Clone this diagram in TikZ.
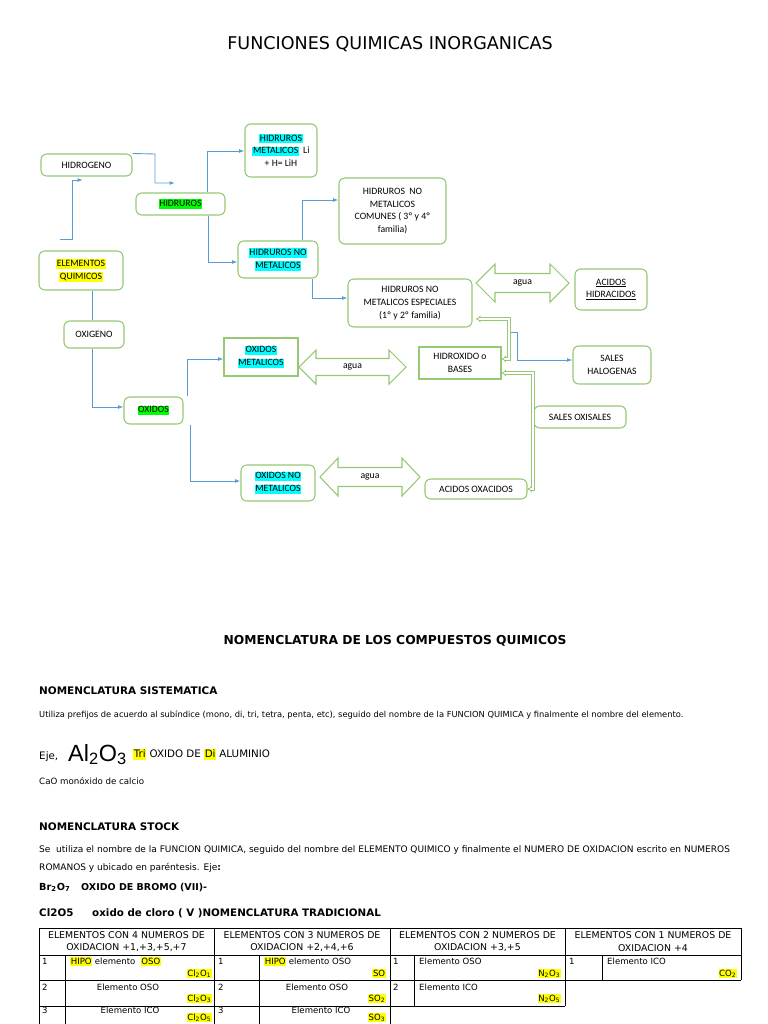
\documentclass[tikz,border=0pt]{standalone}
\usepackage{fontspec}
\setmainfont{Carlito}
\newfontfamily\comic{DejaVu Sans}
\newfontfamily\arialf{Liberation Sans}
\usetikzlibrary{arrows.meta}
\definecolor{gbord}{RGB}{150,200,115}
\definecolor{cblue}{RGB}{91,155,213}
\definecolor{hlg}{RGB}{0,255,0}
\definecolor{hlc}{RGB}{0,255,255}
\definecolor{hly}{RGB}{255,255,0}
\newcommand\hlt[2]{{\setlength{\fboxsep}{0.5pt}\colorbox{#1}{\vphantom{Ag}#2}}}
\newcommand\boxfont{\fontsize{8.3}{11}\selectfont}
\newcommand\parafont[1]{\comic\fontsize{#1}{9}\selectfont}
\newcommand\headfont{\comic\fontsize{8}{10.4}\selectfont}
\newcommand\cellfont{\comic\fontsize{7.3}{9}\selectfont}
\newcommand\aguaarrow[7]{%
  \draw[blockarr] (#2,#4) -- ({#2+#7},{#4-#5}) -- ({#2+#7},{#4-#6}) -- ({#3-#7},{#4-#6}) -- ({#3-#7},{#4-#5}) -- (#3,#4) -- ({#3-#7},{#4+#5}) -- ({#3-#7},{#4+#6}) -- ({#2+#7},{#4+#6}) -- ({#2+#7},{#4+#5}) -- cycle;
  \node[agua] (#1) at ({(#2+#3)/2},#4) {agua};}
\begin{document}
\begin{tikzpicture}[x=0.03cm,y=-0.03cm,
  box/.style={draw=gbord,line width=0.9pt,rounded corners=5pt,fill=white,inner sep=0pt,align=center,font=\boxfont},
  sbox/.style={box,rounded corners=0pt},
  sz/.style 2 args={minimum width=#1*0.03cm,minimum height=#2*0.03cm},
  conn/.style={draw=cblue,line width=0.75pt,-{Latex[length=4.5pt,width=3.2pt]}},
  dbl/.style={draw=gbord,double=white,double distance=1.4pt,line width=0.6pt,{Implies}-{Implies}},
  blockarr/.style={draw=gbord,line width=0.9pt,fill=white,line join=miter},
  agua/.style={font=\boxfont,inner sep=0pt},
  txt/.style={inner sep=0pt,anchor=base west},
  tline/.style={line width=0.8pt,draw=black}]
\useasboundingbox[fill=white] (0,0) rectangle (768,1024);

% title
\node[inner sep=0pt] (title) at (390,44) {\comic\fontsize{15}{17}\selectfont FUNCIONES QUIMICAS INORGANICAS};

% boxes
\node[box,sz={91}{22}] (hidrogeno) at (86.5,165) {HIDROGENO};
\node[box,sz={89}{22}] (hidruros) at (180.5,204) {\hlt{hlg}{HIDRUROS}};
\node[box,sz={72}{53}] (hmet) at (281,150.5) {\hlt{hlc}{HIDRUROS}\\\hlt{hlc}{METALICOS}\ \ Li\\+ H= LiH};
\node[box,sz={84}{39}] (elem) at (81,270.5) {\hlt{hly}{ELEMENTOS}\\\hlt{hly}{QUIMICOS}};
\node[box,sz={80}{37}] (hnomet) at (278,259.5) {\hlt{hlc}{HIDRUROS NO}\\\hlt{hlc}{METALICOS}};
\node[box,sz={107}{66}] (comunes) at (392.5,211) {HIDRUROS\ \ NO\\METALICOS\\COMUNES ( 3\textordmasculine{} y 4\textordmasculine\\familia)};
\node[box,sz={124}{48}] (espec) at (410,303) {HIDRUROS NO\\METALICOS ESPECIALES\\(1\textordmasculine{} y 2\textordmasculine{} familia)};
\node[box,sz={72}{41}] (acidh) at (611,289.5) {\underline{ACIDOS}\\\underline{HIDRACIDOS}};
\node[box,sz={60}{27}] (oxig) at (94,334.5) {OXIGENO};
\node[sbox,sz={74}{38}] (oxmet) at (261,357) {\hlt{hlc}{OXIDOS}\\\hlt{hlc}{METALICOS}};
\node[sbox,sz={82}{32}] (hidrox) at (460,363) {HIDROXIDO o\\BASES};
\node[box,sz={78}{38}] (salesh) at (612,365) {SALES\\HALOGENAS};
\node[box,sz={59}{27}] (oxidos) at (153.5,410.5) {\hlt{hlg}{OXIDOS}};
\node[box,sz={92}{22}] (salesox) at (580,417) {SALES OXISALES};
\node[box,sz={74}{36}] (oxnomet) at (278,483) {\hlt{hlc}{OXIDOS NO}\\\hlt{hlc}{METALICOS}};
\node[box,sz={102}{20}] (acox) at (476,489) {ACIDOS OXACIDOS};

% block arrows
\aguaarrow{agua1}{476}{569}{283}{19}{9.5}{19}
\aguaarrow{agua2}{299}{406}{367}{17}{8.5}{17}
\aguaarrow{agua3}{320}{420}{477}{19}{9.5}{18}

% blue connectors
\coordinate (e1) at (60,239);
\coordinate (e2) at (83,180);
\draw[conn] (e1) -- (72,239) |- (e2);
\coordinate (h1) at (175,183);
\draw[conn] (hidrogeno.north east) -- (155,154) |- (h1);
\draw[conn] (hidruros.north -| 207,0) |- (hmet.west |- 0,151);
\draw[conn] (hidruros.south -| 208,0) |- (hnomet.west |- 0,262);
\draw[conn] (hnomet.north -| 302,0) |- (comunes.west |- 0,200);
\draw[conn] (hnomet.south -| 312,0) |- (espec.west |- 0,298);
\draw[conn,-] (elem.south -| 92,0) -- (oxig.north -| 92,0);
\draw[conn] (oxig.south -| 92,0) |- (oxidos.west |- 0,407);
\draw[conn] (oxidos.north -| 187,0) |- (oxmet.west |- 0,359);
\draw[conn] (oxidos.south -| 190,0) |- (oxnomet.west |- 0,481);
\coordinate (s1) at (511,332);
\draw[conn] (s1) -- (517,332) |- (salesh.west |- 0,360);

% green double connectors
\draw[dbl] ([xshift=3pt]espec.east |- 0,319) -- (509,319) -- (509,359) -- (hidrox.east |- 0,359);
\draw[dbl] (acox.east |- 0,489) -- (533,489) -- (533,373) -- (hidrox.east |- 0,373);

% lower text
\node[inner sep=0pt] (t2) at (395,641) {\comic\bfseries\fontsize{10.5}{12}\selectfont NOMENCLATURA DE LOS COMPUESTOS QUIMICOS};
\node[txt] (sis) at (39,694.5) {\comic\bfseries\fontsize{8.9}{10}\selectfont NOMENCLATURA SISTEMATICA};
\node[txt] (p1) at (39,717) {\parafont{7.1}Utiliza prefijos de acuerdo al subíndice (mono, di, tri, tetra, penta, etc), seguido del nombre de la FUNCION QUIMICA y finalmente el nombre del elemento.};
\node[txt] (eje) at (39,759) {\parafont{8.8}Eje,};
\node[txt] (al) at (68,761) {\arialf\fontsize{20}{22}\selectfont Al\textsubscript{2}O\textsubscript{3}};
\node[txt] (tri) at (133,757) {\parafont{8.8}\hlt{hly}{Tri} OXIDO DE \hlt{hly}{Di} ALUMINIO};
\node[txt] (cao) at (39,784) {\parafont{7.4}CaO monóxido de calcio};
\node[txt] (stock) at (39,830.5) {\comic\bfseries\fontsize{8.9}{10}\selectfont NOMENCLATURA STOCK};
\node[txt] (p2) at (39,852) {\parafont{7.7}Se\ \ utiliza el nombre de la FUNCION QUIMICA, seguido del nombre del ELEMENTO QUIMICO y finalmente el NUMERO DE OXIDACION escrito en NUMEROS};
\node[txt] (p3) at (39,870.5) {\parafont{7.7}ROMANOS y ubicado en paréntesis. Eje\textbf{:}};
\node[txt] (br1) at (39,890) {\comic\bfseries\fontsize{8.3}{10}\selectfont Br\textsubscript{2}O\textsubscript{7}};
\node[txt] (br2) at (81,890) {\comic\bfseries\fontsize{8.1}{10}\selectfont OXIDO DE BROMO (VII)-};
\node[txt] (cl1) at (39,916) {\comic\bfseries\fontsize{8.8}{10}\selectfont Cl2O5};
\node[txt] (cl2) at (92,916) {\comic\bfseries\fontsize{8.8}{10}\selectfont oxido de cloro ( V )NOMENCLATURA TRADICIONAL};

% table
\begin{scope}
\clip (0,0) rectangle (768,1024);
\draw[tline] (39,928) -- (741,928);
\draw[tline] (39,955) -- (741,955);
\draw[tline] (39,980) -- (741,980);
\draw[tline] (39,1006) -- (565,1006);
\draw[tline] (39,928) -- (39,1040);
\draw[tline] (214,928) -- (214,1040);
\draw[tline] (390,928) -- (390,1040);
\draw[tline] (565,928) -- (565,1006);
\draw[tline] (741,928) -- (741,980);
\draw[tline] (65,955) -- (65,1040);
\draw[tline] (259,955) -- (259,1040);
\draw[tline] (414,955) -- (414,1006);
\draw[tline] (602,955) -- (602,980);

\node[inner sep=0pt,align=center,font=\headfont] (h1c) at (126.5,941.5) {ELEMENTOS CON 4 NUMEROS DE\\OXIDACION +1,+3,+5,+7};
\node[inner sep=0pt,align=center,font=\headfont] (h2c) at (302,941.5) {ELEMENTOS CON 3 NUMEROS DE\\OXIDACION +2,+4,+6};
\node[inner sep=0pt,align=center,font=\headfont] (h3c) at (477.5,941.5) {ELEMENTOS CON 2 NUMEROS DE\\OXIDACION +3,+5};
\node[inner sep=0pt,align=center,font=\headfont] (h4c) at (653,941.5) {ELEMENTOS CON 1 NUMEROS DE\\OXIDACION +4};

% col1
\node[txt,font=\cellfont] (n11) at (42,964) {1};
\node[txt,font=\cellfont] (c11) at (70,964) {\hlt{hly}{HIPO} elemento\ \ \hlt{hly}{OSO}};
\node[txt,font=\cellfont,anchor=base east] (f11) at (212,976) {\hlt{hly}{Cl\textsubscript{2}O\textsubscript{1}}};
\node[txt,font=\cellfont] (n12) at (42,990) {2};
\node[txt,font=\cellfont,anchor=base] (c12) at (128,990) {Elemento OSO};
\node[txt,font=\cellfont,anchor=base east] (f12) at (212,1001) {\hlt{hly}{Cl\textsubscript{2}O\textsubscript{3}}};
\node[txt,font=\cellfont] (n13) at (42,1013) {3};
\node[txt,font=\cellfont,anchor=base] (c13) at (130,1013) {Elemento ICO};
\node[txt,font=\cellfont,anchor=base east] (f13) at (212,1020) {\hlt{hly}{Cl\textsubscript{2}O\textsubscript{5}}};
% col2
\node[txt,font=\cellfont] (n21) at (218,964) {1};
\node[txt,font=\cellfont] (c21) at (264,964) {\hlt{hly}{HIPO} elemento OSO};
\node[txt,font=\cellfont,anchor=base east] (f21) at (386,976) {\hlt{hly}{SO}};
\node[txt,font=\cellfont] (n22) at (218,990) {2};
\node[txt,font=\cellfont,anchor=base] (c22) at (317,990) {Elemento OSO};
\node[txt,font=\cellfont,anchor=base east] (f22) at (386,1001) {\hlt{hly}{SO\textsubscript{2}}};
\node[txt,font=\cellfont] (n23) at (218,1013) {3};
\node[txt,font=\cellfont,anchor=base] (c23) at (321,1013) {Elemento ICO};
\node[txt,font=\cellfont,anchor=base east] (f23) at (386,1020) {\hlt{hly}{SO\textsubscript{3}}};
% col3
\node[txt,font=\cellfont] (n31) at (393,964) {1};
\node[txt,font=\cellfont] (c31) at (419,964) {Elemento OSO};
\node[txt,font=\cellfont,anchor=base east] (f31) at (561,976) {\hlt{hly}{N\textsubscript{2}O\textsubscript{3}}};
\node[txt,font=\cellfont] (n32) at (393,990) {2};
\node[txt,font=\cellfont] (c32) at (419,990) {Elemento ICO};
\node[txt,font=\cellfont,anchor=base east] (f32) at (561,1001) {\hlt{hly}{N\textsubscript{2}O\textsubscript{5}}};
% col4
\node[txt,font=\cellfont] (n41) at (569,964) {1};
\node[txt,font=\cellfont] (c41) at (607,964) {Elemento ICO};
\node[txt,font=\cellfont,anchor=base east] (f41) at (737,976) {\hlt{hly}{CO\textsubscript{2}}};
\end{scope}
\end{tikzpicture}
\end{document}
